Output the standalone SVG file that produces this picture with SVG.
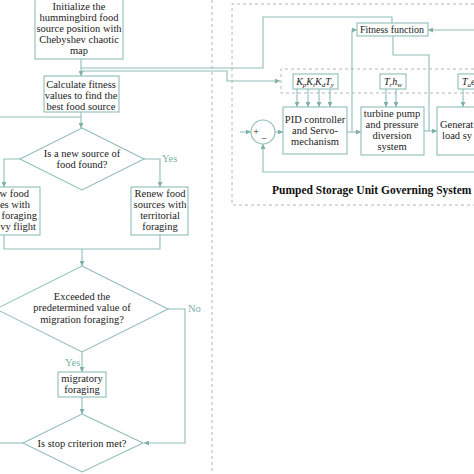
<svg xmlns="http://www.w3.org/2000/svg" width="474" height="474" viewBox="0 0 474 474">
<style>
.bx{fill:#fff;stroke:#8fbdb8;stroke-width:1.1}
.ln{fill:none;stroke:#8fbdb8;stroke-width:1.1}
.ar{fill:none;stroke:#8fbdb8;stroke-width:1.1;marker-end:url(#ah)}
.ds{fill:none;stroke:#b4b4b4;stroke-width:1;stroke-dasharray:3,3}
.t{font-family:"Liberation Serif","DejaVu Serif",serif;font-size:10.5px;fill:#222;text-anchor:middle}
.e{text-anchor:end}
.s{text-anchor:start}
.r{font-size:10px}
.i{font-style:italic}
.lb{font-family:"Liberation Serif","DejaVu Serif",serif;font-size:10.5px;fill:#79b1aa}
.b{font-family:"Liberation Serif","DejaVu Serif",serif;font-size:11.5px;font-weight:bold;fill:#111}
</style>
<defs>
<marker id="ah" viewBox="0 0 6 6" refX="6" refY="3" markerWidth="5" markerHeight="5" orient="auto" markerUnits="userSpaceOnUse">
<path d="M0,0 L6,3 L0,6 z" fill="#7fb0aa"/>
</marker>
</defs>
<rect width="474" height="474" fill="#fff"/>

<g id="dashed">
<line class="ds" x1="212" y1="0" x2="212" y2="474"/>
<path class="ds" d="M480,4 H232 V205 H480"/>
<path class="ds" d="M480,69 H281 V93 H480"/>
</g>

<g id="connectors">
<path class="ar" d="M81,59 V76"/>
<path class="ln" d="M81,68 H263 V17 H392 V23"/>
<path class="ar" d="M81,71 H227 V81 H280"/>
<path class="ln" d="M0,117 H81"/>
<path class="ar" d="M81,112 V128"/>
<path class="ar" d="M20,159 H4 V187"/>
<path class="ar" d="M144,159 H160 V187"/>
<path class="ln" d="M4,235 V249 H160 V235"/>
<path class="ar" d="M82,249 V266"/>
<path class="ar" d="M82,352 V372"/>
<path class="ar" d="M82,397 V414"/>
<path class="ar" d="M168,309 H185 V443 H144"/>
<path class="ln" d="M23,443 H0"/>
<path class="ar" d="M240,132 H251"/>
<path class="ar" d="M275,132 H283"/>
<path class="ar" d="M347,132 H361"/>
<path class="ar" d="M352,132 V30 H357"/>
<path class="ar" d="M424,131 H437"/>
<path class="ln" d="M429,131 V55 H393 V36"/>
<path class="ar" d="M474,30 H428"/>
<path class="ar" d="M474,172 H263 V144"/>
<path class="ar" d="M297,89 V107"/>
<path class="ar" d="M308,89 V107"/>
<path class="ar" d="M319,89 V107"/>
<path class="ar" d="M330,89 V107"/>
<path class="ar" d="M386,89 V107"/>
<path class="ar" d="M396,89 V107"/>
<path class="ar" d="M463,89 V107"/>
</g>

<g id="init">
<rect class="bx" x="35" y="-5" width="88" height="64"/>
<text class="t" x="79" y="10">Initialize the</text>
<text class="t" x="79" y="21">hummingbird food</text>
<text class="t" x="79" y="32">source position with</text>
<text class="t" x="79" y="43">Chebyshev chaotic</text>
<text class="t" x="79" y="54">map</text>
</g>

<g id="calc">
<rect class="bx" x="44" y="76" width="75" height="36"/>
<text class="t" x="81" y="88">Calculate fitness</text>
<text class="t" x="81" y="99">values to find the</text>
<text class="t" x="81" y="110">best food source</text>
</g>

<g id="d1">
<polygon class="bx" points="82,128 144,159 82,190 20,159"/>
<text class="t" x="82" y="157">Is a new source of</text>
<text class="t" x="82" y="168">food found?</text>
<text class="lb" x="162" y="162">Yes</text>
</g>

<g id="levy">
<rect class="bx" x="-20" y="187" width="60" height="48"/>
<text class="t e" x="29" y="197">w food</text>
<text class="t e" x="30" y="208">es with</text>
<text class="t e" x="37" y="219">foraging</text>
<text class="t e" x="36" y="230">vy flight</text>
</g>

<g id="territorial">
<rect class="bx" x="131" y="187" width="57" height="48"/>
<text class="t" x="160" y="197">Renew food</text>
<text class="t" x="160" y="208">sources with</text>
<text class="t" x="160" y="219">territorial</text>
<text class="t" x="160" y="230">foraging</text>
</g>

<g id="d2">
<polygon class="bx" points="82,266 168,309 82,352 -4,309"/>
<text class="t" x="82" y="300">Exceeded the</text>
<text class="t" x="82" y="311">predetermined value of</text>
<text class="t" x="82" y="323">migration foraging?</text>
<text class="lb" x="188" y="312">No</text>
<text class="lb" x="65" y="366">Yes</text>
</g>

<g id="migratory">
<rect class="bx" x="58" y="372" width="48" height="25"/>
<text class="t" x="82" y="382">migratory</text>
<text class="t" x="82" y="393">foraging</text>
</g>

<g id="d3">
<polygon class="bx" points="82,414 143,443 82,472 23,443"/>
<text class="t" x="82" y="447">Is stop criterion met?</text>
</g>

<g id="fitness">
<rect class="bx" x="357" y="23" width="71" height="13"/>
<text class="t r" x="392" y="33">Fitness function</text>
</g>

<g id="pidparams">
<rect class="bx" x="293" y="74" width="45" height="15"/>
<text class="t r i" x="315" y="85">K<tspan font-size="7" dy="2">p</tspan><tspan dy="-2">K</tspan><tspan font-size="7" dy="2">i</tspan><tspan dy="-2">K</tspan><tspan font-size="7" dy="2">d</tspan><tspan dy="-2">T</tspan><tspan font-size="7" dy="2">y</tspan></text>
</g>

<g id="turbparams">
<rect class="bx" x="380" y="74" width="26" height="15"/>
<text class="t r i" x="393" y="85">T<tspan font-size="7" dy="2">r</tspan><tspan dy="-2">h</tspan><tspan font-size="7" dy="2">w</tspan></text>
</g>

<g id="genparams">
<rect class="bx" x="458" y="74" width="30" height="15"/>
<text class="t r i s" x="462" y="85">T<tspan font-size="7" dy="2">a</tspan><tspan dy="-2">e</tspan></text>
</g>

<g id="sum">
<circle class="bx" cx="263" cy="132" r="12"/>
<text class="t r" x="256" y="135">+</text>
<text class="t r" x="264" y="142">−</text>
</g>

<g id="pid">
<rect class="bx" x="283" y="107" width="64" height="47"/>
<text class="t" x="315" y="123">PID controller</text>
<text class="t" x="315" y="134">and Servo-</text>
<text class="t" x="315" y="145">mechanism</text>
</g>

<g id="turbine">
<rect class="bx" x="361" y="107" width="63" height="48"/>
<text class="t" x="392" y="117">turbine pump</text>
<text class="t" x="392" y="128">and pressure</text>
<text class="t" x="392" y="139">diversion</text>
<text class="t" x="392" y="150">system</text>
</g>

<g id="generator">
<rect class="bx" x="437" y="107" width="60" height="48"/>
<text class="t s" x="440" y="128">Generat</text>
<text class="t s" x="442" y="139">load sy</text>
</g>

<text class="b" x="272" y="194">Pumped Storage Unit Governing System</text>
</svg>
